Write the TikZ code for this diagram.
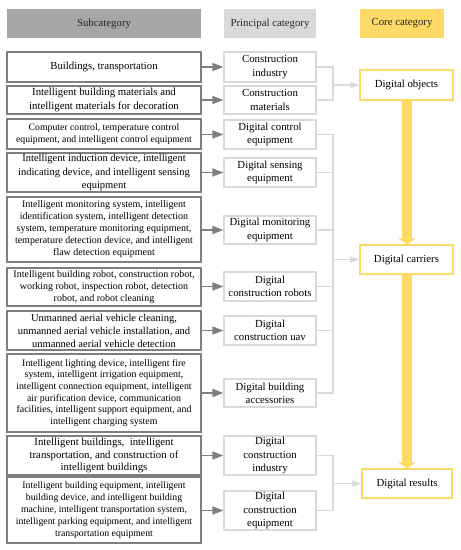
\documentclass[tikz,border=0pt]{standalone}
\usepackage{fontspec}
\setmainfont{Liberation Serif}
\usetikzlibrary{arrows.meta}
\definecolor{hdark}{HTML}{A6A6A6}
\definecolor{hlight}{HTML}{D9D9D9}
\definecolor{hyel}{HTML}{FFD966}
\definecolor{sborder}{HTML}{7F7F7F}
\definecolor{pborder}{HTML}{D9D9D9}
\newcommand{\fsz}[2]{\fontsize{#1}{#2}\selectfont}
\tikzset{
  sub/.style={draw=sborder, line width=1.5pt, align=center, inner sep=0pt, minimum width=194pt},
  prin/.style={draw=pborder, line width=1.2pt, align=center, inner sep=0pt, minimum width=92pt, font=\fsz{10.8}{13.3}},
  core/.style={draw=hyel, line width=1.5pt, align=center, inner sep=0pt, minimum width=93pt, font=\fsz{10.8}{13}},
  hdr/.style={inner sep=0pt, minimum height=29pt, text=black!85, font=\fsz{10.8}{13}},
  sarrow/.style={draw=sborder, line width=1.6pt, -{Triangle[length=11pt,width=8pt]}},
  gline/.style={draw=pborder, line width=1.2pt},
  garrow/.style={draw=pborder, line width=1.2pt, -{Triangle[length=9pt,width=6pt]}},
  yarrow/.style={draw=hyel, line width=10pt, -{Triangle[length=6pt,width=18pt]}},
}
\begin{document}
\begin{tikzpicture}[x=1pt,y=-1pt]
\useasboundingbox (0,0) rectangle (461,550);
% headers
\node[hdr, fill=hdark, minimum width=194pt] (h1) at (104,23.5) {Subcategory};
\node[hdr, fill=hlight, minimum width=92pt] (h2) at (270,23.5) {Principal category};
\node[hdr, fill=hyel, minimum width=84pt] (h3) at (402,23.5) {Core category};
% subcategory boxes
\node[sub, minimum height=30pt, font=\fsz{10.8}{13}] (s1) at (104,67) {Buildings, transportation};
\node[sub, minimum height=28pt, font=\fsz{10.8}{13.3}] (s2) at (104,100) {Intelligent building materials and\\intelligent materials for decoration};
\node[sub, minimum height=30pt, font=\fsz{9.75}{12.3}] (s3) at (104,134) {Computer control, temperature control\\equipment, and intelligent control equipment};
\node[sub, minimum height=39pt, font=\fsz{10.5}{13.3}] (s4) at (104,172.5) {Intelligent induction device, intelligent\\indicating device, and intelligent sensing\\equipment};
\node[sub, minimum height=65pt, font=\fsz{10}{12}] (s5) at (104,229.5) {Intelligent monitoring system, intelligent\\identification system, intelligent detection\\system, temperature monitoring equipment,\\temperature detection device, and intelligent\\flaw detection equipment};
\node[sub, minimum height=38pt, font=\fsz{10}{12}] (s6) at (104,287) {Intelligent building robot, construction robot,\\working robot, inspection robot, detection\\robot, and robot cleaning};
\node[sub, minimum height=39pt, font=\fsz{10.5}{13}] (s7) at (104,330.5) {Unmanned aerial vehicle cleaning,\\unmanned aerial vehicle installation, and\\unmanned aerial vehicle detection};
\node[sub, minimum height=78pt, font=\fsz{9.9}{11.7}] (s8) at (104,393) {Intelligent lighting device, intelligent fire\\system, intelligent irrigation equipment,\\intelligent connection equipment, intelligent\\air purification device, communication\\facilities, intelligent support equipment, and\\intelligent charging system};
\node[sub, minimum height=39pt, font=\fsz{10.8}{12.8}] (s9) at (104,455.5) {Intelligent buildings,~ intelligent\\transportation, and construction of\\intelligent buildings};
\node[sub, minimum height=66pt, font=\fsz{9.75}{12}] (s10) at (104,510) {Intelligent building equipment, intelligent\\building device, and intelligent building\\machine, intelligent transportation system,\\intelligent parking equipment, and intelligent\\transportation equipment};
% principal boxes
\node[prin, minimum height=30pt] (p1) at (270,67) {Construction\\industry};
\node[prin, minimum height=28pt] (p2) at (270,100) {Construction\\materials};
\node[prin, minimum height=29pt] (p3) at (270,134.5) {Digital control\\equipment};
\node[prin, minimum height=29pt] (p4) at (270,172.5) {Digital sensing\\equipment};
\node[prin, minimum height=28pt] (p5) at (270,230) {Digital monitoring\\equipment};
\node[prin, minimum height=29pt] (p6) at (270,286.5) {Digital\\construction robots};
\node[prin, minimum height=29pt] (p7) at (270,330.5) {Digital\\construction uav};
\node[prin, minimum height=28pt] (p8) at (270,393) {Digital building\\accessories};
\node[prin, minimum height=39pt] (p9) at (270,455.5) {Digital\\construction\\industry};
\node[prin, minimum height=39pt] (p10) at (270,510.5) {Digital\\construction\\equipment};
% core boxes
\node[core, minimum height=30pt] (c1) at (406.5,85) {Digital objects};
\node[core, minimum height=29pt] (c2) at (406.5,259.5) {Digital carriers};
\node[core, minimum height=29pt, minimum width=90pt] (c3) at (407,483.5) {Digital results};
% junction column
\coordinate (jx) at (333,0);
\coordinate (yx) at (407,0);
% subcategory -> principal arrows
\foreach \i in {1,...,10} {
  \draw[sarrow] (s\i.east |- p\i.west) -- (p\i.west);
}
% group 1
\draw[gline] (p1.east) -- (p1.east -| jx) -- (p2.east -| jx) -- (p2.east);
\draw[garrow] (c1.west -| jx) -- (c1.west);
% group 2
\draw[gline] (p3.east) -- (p3.east -| jx) -- (p8.east -| jx) -- (p8.east);
\foreach \i in {4,...,7} {
  \draw[gline] (p\i.east) -- (p\i.east -| jx);
}
\draw[garrow] (c2.west -| jx) -- (c2.west);
% group 3
\draw[gline] (p9.east) -- (p9.east -| jx) -- (p10.east -| jx) -- (p10.east);
\draw[garrow] (c3.west -| jx) -- (c3.west);
% thick yellow arrows
\draw[yarrow] (c1.south -| yx) -- (c2.north -| yx);
\draw[yarrow] (c2.south -| yx) -- (c3.north -| yx);
\end{tikzpicture}
\end{document}
